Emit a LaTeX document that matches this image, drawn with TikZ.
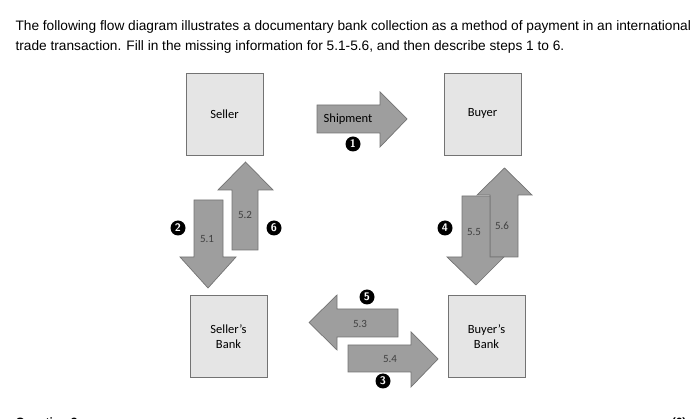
\documentclass[tikz,border=0pt]{standalone}
\usepackage{fontspec}
\setmainfont{Liberation Sans}
\newfontfamily\carlfont{Carlito}
\begin{document}
\begin{tikzpicture}[x=1pt,y=-1pt,
  box/.style={draw=black!55,fill=black!10,line width=0.8pt,minimum width=77pt,minimum height=82pt,inner sep=0pt,align=center,font=\carlfont\fontsize{12.5}{15}\selectfont},
  arr/.style={draw=black!55,fill=black!38,line width=0.7pt},
  lab/.style={font=\carlfont\fontsize{11}{13}\selectfont,text=black!75},
  num/.style={circle,fill=black,text=white,inner sep=0pt,minimum size=15pt,font=\sffamily\bfseries\fontsize{11}{11}\selectfont}]
\useasboundingbox (0,0) rectangle (699,419);
\begin{scope}
\clip (0,0) rectangle (699,419);
\node[anchor=base west,font=\fontsize{13.7}{16}\selectfont] (t1) at (12,31) {The following flow diagram illustrates a documentary bank collection as a method of payment in an international};
\node[anchor=base west,font=\fontsize{13.7}{16}\selectfont] (t2) at (12,51) {trade transaction. Fill in the missing information for 5.1-5.6, and then describe steps 1 to 6.};
\node[anchor=base west,font=\bfseries\fontsize{12}{14}\selectfont] (q) at (12,427) {Question 3};
\node[anchor=base east,font=\bfseries\fontsize{12}{14}\selectfont] (m) at (690,427) {(6)};
\end{scope}
\node[box] (seller) at (224.5,114) {Seller};
\node[box] (buyer) at (482.5,114) {Buyer};
\node[box] (sbank) at (228.5,336.5) {Seller’s\\Bank};
\node[box] (bbank) at (486.5,336.5) {Buyer’s\\Bank};
% shipment
\draw[arr] (317,105)--(380,105)--(380,92)--(407,119)--(380,147)--(380,133)--(317,133)--cycle;
\node[font=\carlfont\fontsize{12.5}{15}\selectfont] (ship) at (348,119) {Shipment};
\node[num] (n1) at (353,144) {1};
% 5.2 up
\draw[arr] (232,250)--(232,190)--(218,190)--(245.5,162)--(273,190)--(258,190)--(258,250)--cycle;
\node[lab] (l52) at (245,215) {5.2};
% 5.1 down
\draw[arr] (194,200)--(223,200)--(223,257)--(236,257)--(208,288)--(180,257)--(194,257)--cycle;
\node[lab] (l51) at (207,239) {5.1};
\node[num] (n2) at (178,228) {2};
\node[num] (n6) at (274,228) {6};
% 5.6 up
\draw[arr] (490,257)--(490,195)--(477,195)--(504.5,168)--(532,195)--(518,195)--(518,257)--cycle;
\node[lab] (l56) at (502,226) {5.6};
% 5.5 down
\draw[arr] (462,196)--(490,196)--(490,257)--(504,257)--(476,285)--(447,257)--(462,257)--cycle;
\node[lab] (l55) at (474,232) {5.5};
\node[num] (n4) at (445,228) {4};
% 5.3 left
\draw[arr] (398,309)--(337,309)--(337,295)--(309,322.5)--(337,350)--(337,337)--(398,337)--cycle;
\node[lab] (l53) at (360,324) {5.3};
\node[num] (n5) at (367,297) {5};
% 5.4 right
\draw[arr] (348,345)--(411,345)--(411,332)--(438,359)--(411,387)--(411,372)--(348,372)--cycle;
\node[lab] (l54) at (390,359) {5.4};
\node[num] (n3) at (383,381) {3};
\end{tikzpicture}
\end{document}
